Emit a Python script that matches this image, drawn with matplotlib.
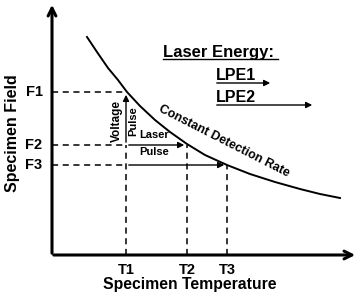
import matplotlib
matplotlib.use('Agg')
import matplotlib.pyplot as plt

plt.rcParams['font.family'] = ['Liberation Sans', 'DejaVu Sans']
plt.rcParams['font.weight'] = 'bold'

# Constant detection rate curve (temperature, field)
curve_t = [35, 45, 56, 66, 75, 88, 103, 118, 135, 153, 175, 198, 223, 248, 268, 288]
curve_f = [218, 203, 187, 175, 163, 149, 135, 123, 111, 100, 90, 81, 73, 66, 61, 57]

# Operating points
temp_labels = ['T1', 'T2', 'T3']
temps = [74, 135, 175]
field_labels = ['F1', 'F2', 'F3']
fields = [163, 110, 90]

# Laser energy legend arrows
lpe_labels = ['LPE1', 'LPE2']
lpe_lengths = [59, 101]

fig = plt.figure(figsize=(3.6, 2.97), dpi=100)
ax = fig.add_axes([0, 0, 1, 1])
ax.set_xlim(-52, 308)
ax.set_ylim(-42, 255)
ax.axis('off')

arrow = dict(arrowstyle='-|>', color='black', lw=1.0, mutation_scale=9)
axis_arrow = dict(arrowstyle='->', color='black', lw=2.2, mutation_scale=14)

# axes with arrowheads
ax.annotate('', xy=(0, 253), xytext=(0, -1), arrowprops=axis_arrow)
ax.annotate('', xy=(306, 0), xytext=(-1, 0), arrowprops=axis_arrow)

ax.text(-40, 122, 'Specimen Field', rotation=90, ha='center', va='center', fontsize=11.5)
ax.text(138, -30, 'Specimen Temperature', ha='center', va='center', fontsize=11.3)

# curve
ax.plot(curve_t, curve_f, color='black', lw=1.4)
ax.text(172, 114, 'Constant Detection Rate', rotation=-27, ha='center', va='center',
        fontsize=9)

# dashed guides
dash = (0, (4, 3))
for f in fields:
    ax.plot([0, temps[0]], [f, f], color='black', ls=dash, lw=1.1)
ax.plot([temps[0], temps[0]], [0, fields[1]], color='black', ls=dash, lw=1.1)
ax.plot([temps[1], temps[1]], [0, fields[1]], color='black', ls=dash, lw=1.1)
ax.plot([temps[2], temps[2]], [0, fields[2]], color='black', ls=dash, lw=1.1)

# pulses
ax.annotate('', xy=(temps[0], fields[0]), xytext=(temps[0], fields[1]), arrowprops=arrow)
ax.annotate('', xy=(temps[1], fields[1]), xytext=(temps[0], fields[1]), arrowprops=arrow)
ax.annotate('', xy=(temps[2], fields[2]), xytext=(temps[0], fields[2]), arrowprops=arrow)

ax.text(temps[0] - 9, 134, 'Voltage', rotation=90, ha='center', va='center', fontsize=8.5)
ax.text(temps[0] + 7, 134, 'Pulse', rotation=90, ha='center', va='center', fontsize=8)
ax.text(temps[0] + 28, 120, 'Laser', ha='center', va='center', fontsize=8)
ax.text(temps[0] + 28, 103, 'Pulse', ha='center', va='center', fontsize=8)

# tick labels
for t, lab in zip(temps, temp_labels):
    ax.text(t, -15, lab, ha='center', va='center', fontsize=10.5)
for f, lab in zip(fields, field_labels):
    ax.text(-18, f, lab, ha='center', va='center', fontsize=10.5)

# laser energy legend
ax.text(111, 203, 'Laser Energy:', ha='left', va='center', fontsize=12)
ax.plot([111, 226], [196, 196], color='black', lw=1.0)
for i, (lab, ln) in enumerate(zip(lpe_labels, lpe_lengths)):
    y = 172 - 22 * i
    ax.text(164, y + 8, lab, ha='left', va='center', fontsize=11.5)
    ax.annotate('', xy=(162 + ln, y), xytext=(162, y), arrowprops=arrow)

fig.savefig('out.png', dpi=100)
